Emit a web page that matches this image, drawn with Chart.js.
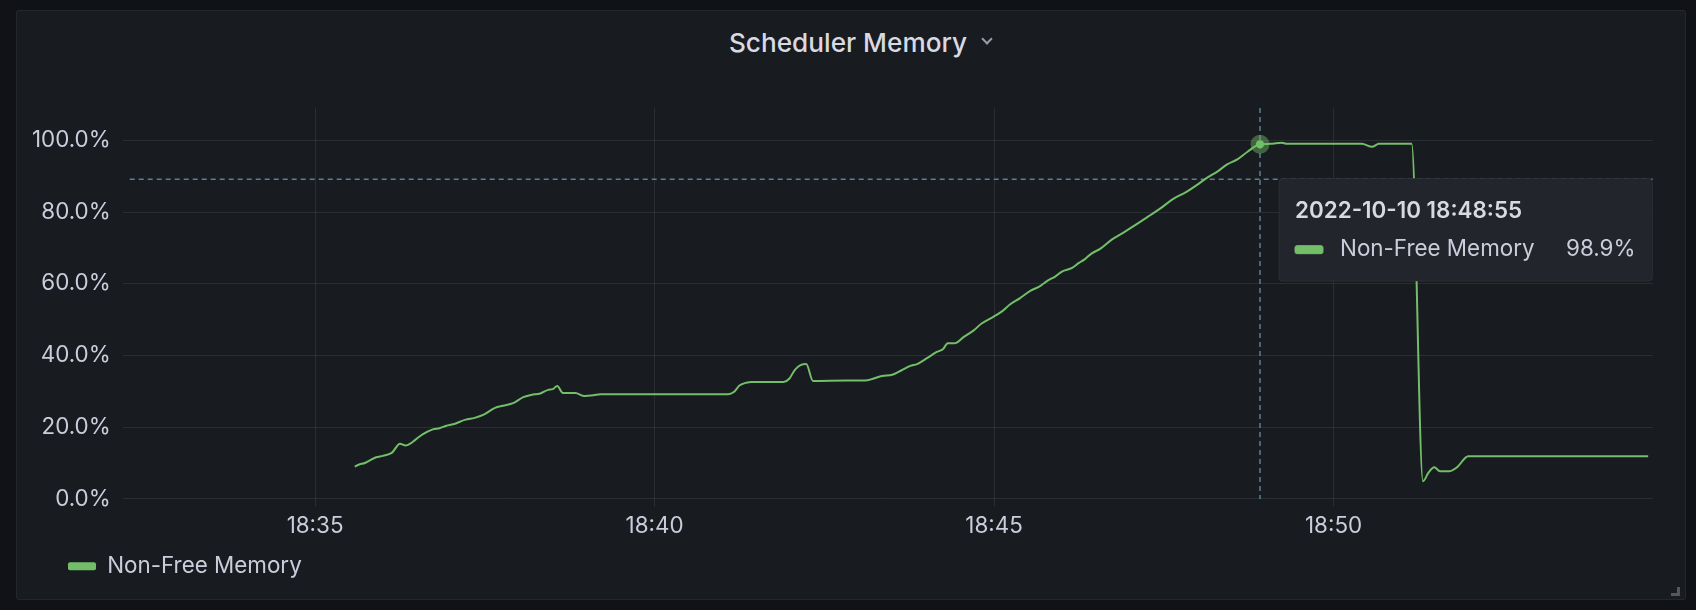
<!DOCTYPE html>
<html lang="en">
<head>
  <meta charset="UTF-8" />
  <title>Scheduler Memory</title>
  <script src="https://cdn.jsdelivr.net/npm/chart.js@4.4.0/dist/chart.umd.min.js"></script>
  <style>
    html, body { margin: 0; padding: 0; background: #111217; }
    body { width: 1696px; height: 610px; position: relative; overflow: hidden; font-family: Inter, 'Noto Sans', sans-serif; }
    #panel { position: absolute; left: 16px; top: 10px; width: 1668px; height: 588px; background: #181b1f; border: 1px solid #24272c; border-radius: 3px; }
    #title { position: absolute; left: 0; width: 1696px; top: 28px; text-align: center; color: #d8d9e3; font-size: 26.2px; font-weight: 500; line-height: 30px; }
    #title span { position: relative; }
    #title .chev { position: absolute; right: -24px; top: 8px; width: 6px; height: 6px; border-right: 2px solid #9a9ba4; border-bottom: 2px solid #9a9ba4; transform: rotate(45deg); }
    #grip { position: absolute; left: 1671px; top: 587px; width: 6px; height: 6px; border-right: 3px solid #55575d; border-bottom: 3px solid #55575d; }
    #chart { position: absolute; left: 0; top: 0; }
  </style>
</head>
<body>
  <div id="panel"></div>
  <div id="title"><span>Scheduler Memory<i class="chev"></i></span></div>
  <div id="grip"></div>
  <canvas id="chart" width="1696" height="610"></canvas>

  <script>
    // series (time of day, % used)
    const seriesName = 'Non-Free Memory'
    const times = [
      '18:35:35', '18:35:39', '18:35:44', '18:35:48', '18:35:54', '18:36:00', '18:36:08', '18:36:15',
      '18:36:20', '18:36:24', '18:36:29', '18:36:35', '18:36:44', '18:36:50', '18:36:56', '18:37:02',
      '18:37:13', '18:37:21', '18:37:29', '18:37:39', '18:37:46', '18:37:55', '18:38:04', '18:38:11',
      '18:38:19', '18:38:26', '18:38:30', '18:38:34', '18:38:39', '18:38:50', '18:38:58', '18:39:06',
      '18:39:12', '18:41:05', '18:41:10', '18:41:15', '18:41:21', '18:41:26', '18:41:54', '18:41:59',
      '18:42:04', '18:42:09', '18:42:14', '18:42:20', '18:42:50', '18:43:06', '18:43:13', '18:43:21',
      '18:43:30', '18:43:38', '18:43:46', '18:43:52', '18:44:00', '18:44:09', '18:44:15', '18:44:19',
      '18:44:25', '18:44:33', '18:44:42', '18:44:49', '18:45:00', '18:45:07', '18:45:14', '18:45:23',
      '18:45:32', '18:45:41', '18:45:47', '18:45:54', '18:46:00', '18:46:09', '18:46:15', '18:46:20',
      '18:46:26', '18:46:34', '18:46:44', '18:46:54', '18:47:06', '18:47:16', '18:47:27', '18:47:38',
      '18:47:50', '18:47:59', '18:48:09', '18:48:17', '18:48:26', '18:48:35', '18:48:44', '18:48:55',
      '18:49:04', '18:49:14', '18:49:19', '18:50:25', '18:50:34', '18:50:40', '18:51:09', '18:51:19',
      '18:51:24', '18:51:29', '18:51:34', '18:51:42', '18:51:49', '18:51:59', '18:54:38'
    ]
    const values = [
      9.0, 9.6, 10.0, 10.7, 11.6, 12.0, 12.9, 15.4,
      14.9, 15.4, 16.6, 18.0, 19.4, 19.7, 20.4, 20.8,
      22.1, 22.6, 23.5, 25.4, 26.0, 26.7, 28.4, 29.0,
      29.4, 30.4, 30.6, 31.5, 29.5, 29.5, 28.7, 28.9,
      29.2, 29.2, 29.8, 31.6, 32.4, 32.6, 32.6, 33.5,
      36.0, 37.3, 37.6, 32.9, 33.0, 33.0, 33.5, 34.3,
      34.6, 35.8, 37.1, 37.6, 39.1, 40.9, 41.8, 43.4,
      43.4, 45.1, 47.0, 48.9, 50.9, 52.3, 54.2, 56.0,
      58.0, 59.4, 60.8, 62.0, 63.4, 64.4, 65.8, 66.8,
      68.4, 69.8, 72.3, 74.2, 76.6, 78.7, 81.0, 83.6,
      85.6, 87.5, 89.7, 91.2, 93.3, 94.7, 96.8, 98.9,
      99.0, 99.3, 99.0, 99.0, 98.2, 99.0, 99.0, 4.9,
      7.4, 8.8, 7.7, 7.7, 8.8, 11.9, 11.9
    ]
    const xTickLabels = ['18:35', '18:40', '18:45', '18:50']
    const yTickValues = [0, 20, 40, 60, 80, 100]
    const xRange = ['18:32:10', '18:54:42']
    const yRange = [0, 109]
    const hoverDate = '2022-10-10'
    const hoverTime = '18:48:55'
    const cursorValue = 89.1

    const green = '#73bf69'
    const textColor = '#ccccdc'
    const gridColor = 'rgba(204, 204, 220, 0.1)'

    function toSec(hms) {
      const p = hms.split(':').map(Number)
      return p[0] * 3600 + p[1] * 60 + (p[2] || 0)
    }
    function pad(n) { return String(n).padStart(2, '0') }

    Chart.defaults.font.family = 'Inter'
    Chart.defaults.font.size = 22.4
    Chart.defaults.color = textColor

    Chart.Tooltip.positioners.grafana = function () {
      const c = this.chart
      return {
        x: c.scales.x.getPixelForValue(toSec(hoverTime)) + 23,
        y: c.scales.y.getPixelForValue(cursorValue) - 1
      }
    }

    const crosshair = {
      id: 'crosshair',
      afterLayout(chart) {
        // legend sits inside the panel, not at the canvas edge
        chart.legend.left = 58
      },
      beforeDatasetsDraw(chart) {
        const {ctx, chartArea, scales} = chart
        const x = scales.x.getPixelForValue(toSec(hoverTime))
        const y = scales.y.getPixelForValue(cursorValue)
        ctx.save()
        ctx.strokeStyle = '#5d7f8e'
        ctx.lineWidth = 1.5
        ctx.setLineDash([5, 4])
        ctx.beginPath()
        ctx.moveTo(x, chartArea.top)
        ctx.lineTo(x, chartArea.bottom)
        ctx.moveTo(chartArea.left + 7, y)
        ctx.lineTo(chartArea.right, y)
        ctx.stroke()
        ctx.restore()
      }
    }

    const ctx = document.getElementById('chart').getContext('2d')
    const chart = new Chart(ctx, {
      type: 'line',
      data: {
        datasets: [{
          label: seriesName,
          data: times.map((t, i) => ({x: toSec(t), y: values[i]})),
          borderColor: green,
          backgroundColor: green,
          borderWidth: 2,
          cubicInterpolationMode: 'monotone',
          pointRadius: 0,
          pointHoverRadius: 4,
          pointHoverBackgroundColor: green,
          pointHoverBorderColor: 'rgba(115, 191, 105, 0.45)',
          pointHoverBorderWidth: 11,
          fill: false
        }]
      },
      options: {
        responsive: false,
        animation: false,
        events: [],
        layout: { padding: { left: 0, right: 43.3, top: 108, bottom: 22.5 } },
        scales: {
          x: {
            type: 'linear',
            min: toSec(xRange[0]),
            max: toSec(xRange[1]),
            afterFit(scale) { scale.height = 46.2 },
            afterBuildTicks(scale) { scale.ticks = xTickLabels.map(l => ({value: toSec(l)})) },
            grid: { color: gridColor, tickLength: 8, drawTicks: true },
            border: { display: false },
            ticks: {
              padding: 6,
              maxRotation: 0,
              callback: v => pad(Math.floor(v / 3600)) + ':' + pad(Math.floor(v % 3600 / 60))
            }
          },
          y: {
            min: yRange[0],
            max: yRange[1],
            afterFit(scale) { scale.width = 122.7 },
            afterBuildTicks(scale) { scale.ticks = yTickValues.map(v => ({value: v})) },
            grid: { color: gridColor, drawTicks: false },
            border: { display: false },
            ticks: { padding: 12, callback: v => v.toFixed(1) + '%' }
          }
        },
        plugins: {
          legend: {
            position: 'bottom',
            align: 'start',
            labels: {
              color: textColor,
              boxWidth: 28,
              boxHeight: 8,
              padding: 10,
              useBorderRadius: true,
              borderRadius: 2,
              generateLabels: () => [{
                text: seriesName, fillStyle: green, strokeStyle: green, lineWidth: 0,
                borderRadius: 2, datasetIndex: 0, fontColor: textColor
              }]
            }
          },
          tooltip: {
            enabled: true,
            position: 'grafana',
            xAlign: 'left',
            yAlign: 'top',
            caretSize: 0,
            caretPadding: 0,
            cornerRadius: 4,
            backgroundColor: '#22252b',
            borderColor: 'rgba(204, 204, 220, 0.08)',
            borderWidth: 1,
            titleColor: '#d8d9e3',
            bodyColor: textColor,
            titleFont: { family: 'Inter', size: 22.4, weight: '600' },
            bodyFont: { family: 'Inter', size: 22.4 },
            titleMarginBottom: 12,
            padding: { left: 16, right: 17, top: 19, bottom: 18 },
            boxWidth: 28,
            boxHeight: 8,
            boxPadding: 15,
            multiKeyBackground: green,
            callbacks: {
              title: () => hoverDate + ' ' + hoverTime,
              label: c => c.dataset.label + '     ' + c.parsed.y.toFixed(1) + '%',
              labelColor: () => ({ borderColor: green, backgroundColor: green, borderWidth: 0, borderRadius: 2 })
            }
          }
        }
      },
      plugins: [crosshair]
    })

    const idx = times.indexOf(hoverTime)
    chart.setActiveElements([{datasetIndex: 0, index: idx}])
    chart.tooltip.setActiveElements([{datasetIndex: 0, index: idx}], {x: 0, y: 0})
    chart.update()
  </script>
</body>
</html>
